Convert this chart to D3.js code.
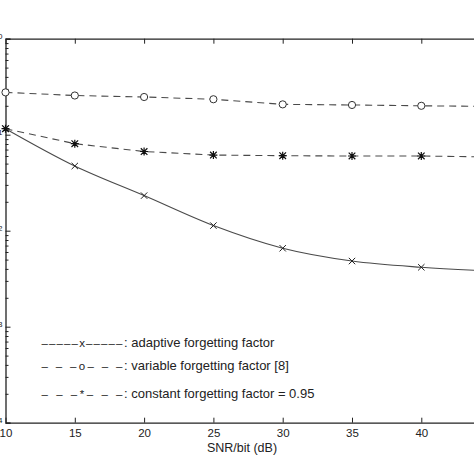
<!DOCTYPE html>
<html>
<head>
<meta charset="utf-8">
<script src="https://cdn.jsdelivr.net/npm/d3@7"></script>
<style>
  body { margin: 0; background: #fff; }
  svg { display: block; font-family: "Liberation Sans", Arial, Helvetica, sans-serif; }
</style>
</head>
<body>
<script>
// SNR/bit values (dB)
var snr = [10, 15, 20, 25, 30, 35, 40, 45];
// (log scale)
var adaptive = [0.1155, 0.0472, 0.0232, 0.0113, 0.00656, 0.00483, 0.00416, 0.0038];
var variable = [0.276, 0.256, 0.247, 0.234, 0.207, 0.204, 0.200, 0.197];
var constant = [0.1155, 0.0806, 0.0668, 0.0614, 0.0604, 0.0600, 0.0600, 0.0586];
var xTicks = [10, 15, 20, 25, 30, 35, 40, 45];
var yTicks = [1e-4, 1e-3, 1e-2, 1e-1, 1];
var legendKeys = ['–––––x–––––', '– – –o– – –', '– – –*– – –'];
var legendLabels = [': adaptive forgetting factor', ': variable forgetting factor [8]', ': constant forgetting factor = 0.95'];

var width = 474, height = 474;
var mLeft = 5.5, mTop = 38.7, mBottom = 422.7, mRight = 490.6;

var x = d3.scaleLinear().domain([10, 45]).range([mLeft, mRight]);
var y = d3.scaleLog().domain([1e-4, 1]).range([mBottom, mTop]);

var svg = d3.select('body').append('svg')
  .attr('width', width)
  .attr('height', height);

var ink = '#222';

// minor log ticks
var minor = [];
yTicks.slice(0, -1).forEach(function(d) {
  for (var k = 2; k <= 9; k++) minor.push(d * k);
});

// left axis (ticks inside)
var yAxis = svg.append('g')
  .attr('transform', 'translate(' + mLeft + ',0)')
  .call(d3.axisLeft(y).tickValues(yTicks).tickSize(-5).tickFormat(''));
yAxis.selectAll('.tick')
  .append('text')
  .attr('fill', ink)
  .attr('x', -3)
  .attr('dy', '0.32em')
  .attr('text-anchor', 'end')
  .style('font-size', '11.5px')
  .each(function(d) {
    var e = Math.round(Math.log10(d));
    var t = d3.select(this);
    t.append('tspan').text('10');
    t.append('tspan').attr('dy', '-0.5em').style('font-size', '8px').text(e);
  });
svg.append('g')
  .attr('transform', 'translate(' + mLeft + ',0)')
  .call(d3.axisLeft(y).tickValues(minor).tickSize(-3).tickFormat(''))
  .select('.domain').remove();

// bottom axis
var xAxis = svg.append('g')
  .attr('transform', 'translate(0,' + mBottom + ')')
  .call(d3.axisBottom(x).tickValues(xTicks).tickSize(-5).tickPadding(6).tickSizeOuter(0));
xAxis.selectAll('text').style('font-size', '11.5px').attr('fill', ink);

// top axis
svg.append('g')
  .attr('transform', 'translate(0,' + mTop + ')')
  .call(d3.axisTop(x).tickValues(xTicks).tickSize(-5).tickSizeOuter(0).tickFormat(''));

svg.selectAll('.domain').attr('stroke', ink).attr('stroke-width', 1.3);
svg.selectAll('.tick line').attr('stroke', ink);

// right edge of box
svg.append('line')
  .attr('x1', x(45)).attr('x2', x(45))
  .attr('y1', mTop).attr('y2', mBottom)
  .attr('stroke', ink);

var lineColor = '#4a4a4a';

function series(vals) {
  return snr.map(function(s, i) { return [s, vals[i]]; });
}

var adaptiveLine = d3.line()
  .x(function(d) { return x(d[0]); })
  .y(function(d) { return y(d[1]); })
  .curve(d3.curveMonotoneX);
var dashLine = d3.line()
  .x(function(d) { return x(d[0]); })
  .y(function(d) { return y(d[1]); });

svg.append('path')
  .attr('d', dashLine(series(variable)))
  .attr('fill', 'none')
  .attr('stroke', lineColor)
  .attr('stroke-width', 1.1)
  .attr('stroke-dasharray', '7,5');

svg.append('path')
  .attr('d', dashLine(series(constant)))
  .attr('fill', 'none')
  .attr('stroke', lineColor)
  .attr('stroke-width', 1.1)
  .attr('stroke-dasharray', '7,5');

svg.append('path')
  .attr('d', adaptiveLine(series(adaptive)))
  .attr('fill', 'none')
  .attr('stroke', lineColor)
  .attr('stroke-width', 1.1);

// markers
svg.selectAll('.mo')
  .data(series(variable))
  .enter().append('circle')
  .attr('cx', function(d) { return x(d[0]); })
  .attr('cy', function(d) { return y(d[1]); })
  .attr('r', 3.6)
  .attr('fill', '#fff')
  .attr('stroke', '#333')
  .attr('stroke-width', 1);

var xSym = 'M-3.2,-3.2L3.2,3.2M-3.2,3.2L3.2,-3.2';
var starSym = 'M-3.3,-3.3L3.3,3.3M-3.3,3.3L3.3,-3.3M0,-4L0,4M-4,0L4,0';

svg.selectAll('.mx')
  .data(series(adaptive))
  .enter().append('path')
  .attr('transform', function(d) { return 'translate(' + x(d[0]) + ',' + y(d[1]) + ')'; })
  .attr('d', xSym)
  .attr('stroke', '#222')
  .attr('stroke-width', 1);

svg.selectAll('.ms')
  .data(series(constant))
  .enter().append('path')
  .attr('transform', function(d) { return 'translate(' + x(d[0]) + ',' + y(d[1]) + ')'; })
  .attr('d', starSym)
  .attr('stroke', '#111')
  .attr('stroke-width', 1.2);

// legend written as text
var legY = [347, 370, 398];
legendKeys.forEach(function(k, i) {
  svg.append('text')
    .attr('x', 41.5)
    .attr('y', legY[i])
    .attr('textLength', 81)
    .attr('lengthAdjust', 'spacing')
    .attr('fill', ink)
    .style('font-size', '11.5px')
    .text(k);
  svg.append('text')
    .attr('x', 124)
    .attr('y', legY[i])
    .attr('fill', ink)
    .style('font-size', '13px')
    .text(legendLabels[i]);
});

// x label
svg.append('text')
  .attr('x', 242)
  .attr('y', 451.5)
  .attr('text-anchor', 'middle')
  .attr('fill', ink)
  .style('font-size', '12.5px')
  .text('SNR/bit (dB)');
</script>
</body>
</html>
